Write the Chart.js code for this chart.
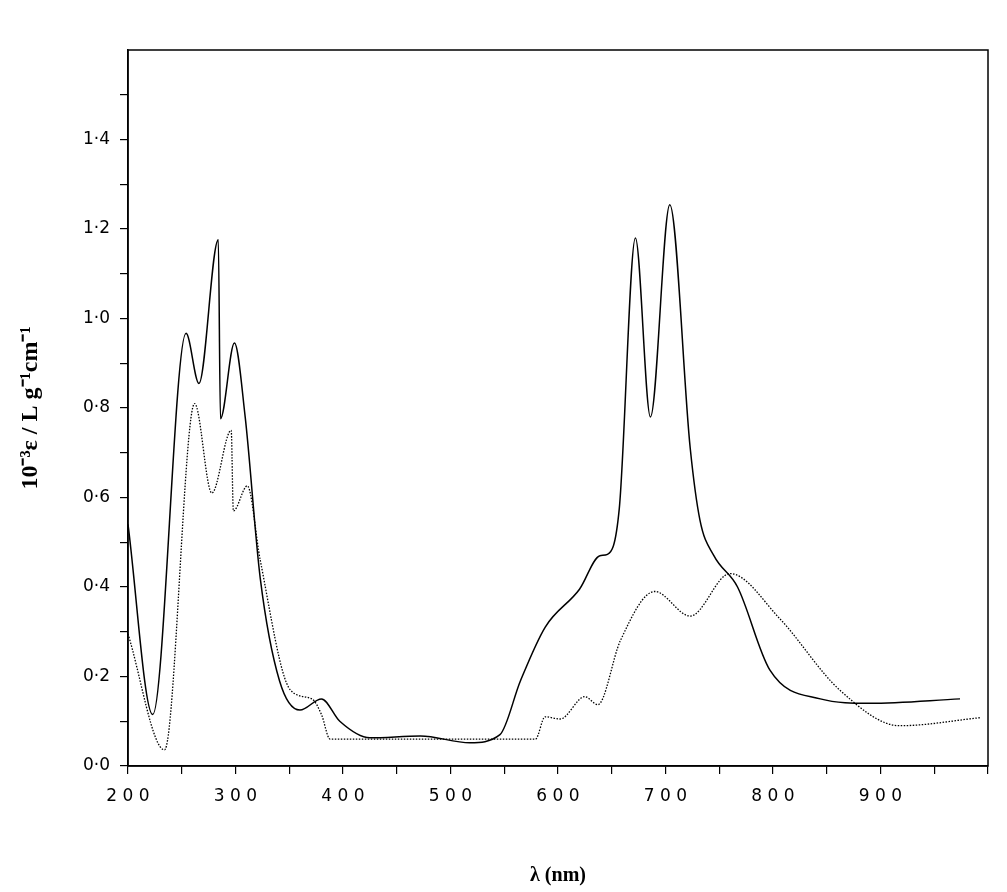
<!DOCTYPE html>
<html><head><script src="https://cdn.jsdelivr.net/npm/chart.js@4"></script>
<style>body{margin:0;background:#fff}#w{width:1007px;height:892px}</style></head>
<body><div id="w"><canvas id="c"></canvas></div>
<script>
const solidX=[200,223,254,266,284,286,299,309,323,341,360,380,397,425,472,518,546,565,588,620,639,646,657,672,686,704,723,732,745,767,797,844,890,974];
const solidY=[0.54,0.115,0.967,0.855,1.176,0.776,0.945,0.78,0.42,0.19,0.125,0.15,0.10,0.063,0.067,0.052,0.07,0.19,0.31,0.395,0.47,0.473,0.575,1.18,0.78,1.254,0.71,0.55,0.47,0.40,0.215,0.15,0.14,0.15];
const dotX=[200,234,262,278,296,298,311,323,351,371,380,388,453,579,588,602,625,637,658,690,723,760,806,862,918,993];
const dotY=[0.295,0.036,0.81,0.61,0.75,0.57,0.626,0.46,0.17,0.15,0.115,0.06,0.06,0.06,0.11,0.105,0.155,0.137,0.28,0.39,0.335,0.43,0.33,0.17,0.09,0.108];
const xLabels=[200,300,400,500,600,700,800,900];
const yLabels=[0,0.2,0.4,0.6,0.8,1.0,1.2,1.4];
const pts=(xs,ys)=>xs.map((x,i)=>({x,y:ys[i]}));
const frame={id:'frame',afterDraw(c){const a=c.chartArea,g=c.ctx;g.save();g.strokeStyle='#000';g.lineWidth=1.5;g.strokeRect(a.left,a.top,a.right-a.left,a.bottom-a.top);g.restore();}};
const font={family:'DejaVu Sans',size:16};
new Chart(document.getElementById('c'),{type:'line',
data:{datasets:[
{data:pts(solidX,solidY),borderColor:'#000',borderWidth:1.5,pointRadius:0,cubicInterpolationMode:'monotone'},
{data:pts(dotX,dotY),borderColor:'#000',borderWidth:1.3,borderDash:[1.5,1.5],pointRadius:0,cubicInterpolationMode:'monotone'}]},
options:{responsive:true,maintainAspectRatio:false,animation:false,
layout:{padding:{top:50,right:19,left:0,bottom:0}},
plugins:{legend:{display:false},tooltip:{enabled:false}},
scales:{
x:{type:'linear',min:200,max:1000,
 afterBuildTicks(s){const t=[];for(let v=200;v<=1000;v+=50)t.push({value:v});s.ticks=t;},
 afterFit(s){s.height=126;},
 grid:{drawOnChartArea:false,tickLength:8,color:'#000',lineWidth:1.2},border:{color:'#000',width:1.5},
 ticks:{autoSkip:false,maxRotation:0,padding:12,color:'#000',font:{family:'DejaVu Sans',size:17},callback:v=>xLabels.includes(v)?String(v).split('').join(' '):''},
 title:{display:true,text:'λ (nm)',color:'#000',font:{family:'Liberation Serif',size:20,weight:'bold'},padding:{top:28}}},
y:{min:0,max:1.6,
 afterBuildTicks(s){const t=[];for(let i=0;i<=15;i++)t.push({value:i/10});s.ticks=t;},
 afterFit(s){s.width=128;},
 grid:{drawOnChartArea:false,tickLength:8,color:'#000',lineWidth:1.2},border:{color:'#000',width:1.5},
 ticks:{autoSkip:false,padding:10,color:'#000',font:{family:'DejaVu Sans',size:17},callback:v=>{const r=Math.round(v*10);return r%2===0&&r<=14?(v.toFixed(1).replace('.','·')):'';}},
 title:{display:true,text:'10⁻³ε / L g⁻¹cm⁻¹',color:'#000',font:{family:'Liberation Serif',size:24,weight:'bold'},padding:{top:16,bottom:10}}}}},
plugins:[frame]});
</script></body></html>
